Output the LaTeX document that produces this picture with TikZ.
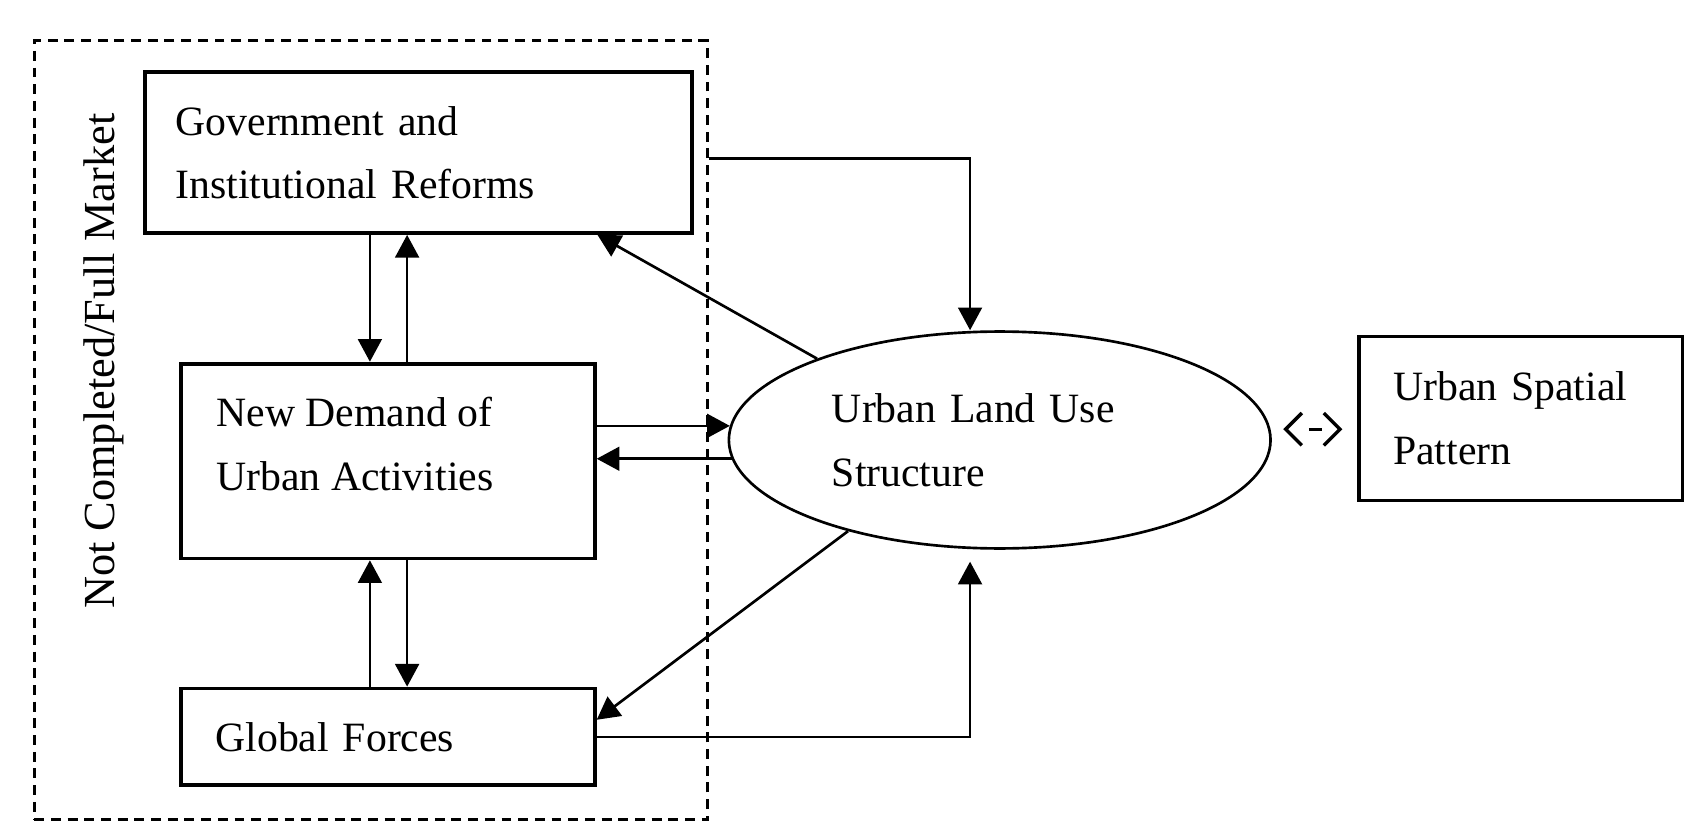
\documentclass[tikz,border=0pt]{standalone}
\usepackage{fontspec}
\setmainfont{Liberation Serif}
\usetikzlibrary{arrows.meta, shapes.geometric, calc}

\begin{document}
\begin{tikzpicture}[
  x=0.01cm, y=-0.01cm,
  >={Triangle[length=0.21cm, width=0.22cm]},
  box/.style   = {draw, line width=1pt, rectangle, inner ysep=0pt, align=left,
                  font=\fontsize{11}{16.8}\selectfont},
  txt/.style   = {inner sep=0pt, align=left, font=\fontsize{11}{16.8}\selectfont},
  oval/.style  = {draw, line width=0.7pt, ellipse, inner sep=0pt, align=left,
                  font=\fontsize{11}{16.8}\selectfont},
  frame/.style = {draw, line width=0.8pt, dash pattern=on 2.6pt off 1.8pt},
  link/.style  = {line width=0.7pt},
  swap/.style  = {line width=0.9pt, dash pattern=on 0pt off 0.2cm on 0.12cm off 1cm,
                  arrows={Straight Barb[length=0.15cm, width=0.3cm]-Straight Barb[length=0.15cm, width=0.3cm]},
                  shorten <=0.105cm, shorten >=0.134cm},
]
  \useasboundingbox (0,0) rectangle (1568,767);

  \node[frame, minimum width=6.24cm, minimum height=7.22cm] (mkt) at (344,399) {};
  \node[rotate=90, anchor=base, font=\fontsize{11.7}{14}\selectfont] (mlbl) at (106,335)
    {Not Completed/Full Market};

  \node[box, minimum width=5.07cm, minimum height=1.49cm, inner xsep=0.285cm, text width=4.5cm]
    (gov) at (388,141.5) {Government and\\Institutional Reforms};
  \node[box, minimum width=3.835cm, minimum height=1.805cm] (dem) at (359.7,427.5) {};
  \node[txt, anchor=west] (demtxt) at (200,412) {New Demand of\\Urban Activities};
  \node[box, minimum width=3.835cm, minimum height=0.895cm, inner xsep=0.32cm, text width=3.195cm]
    (glob) at (359.7,683.25) {Global Forces};
  \node[oval, minimum width=5.02cm, minimum height=2.01cm, text width=3.11cm]
    (ulu) at (927,408) {Urban Land Use\\Structure};
  \node[box, minimum width=3cm, minimum height=1.52cm, inner xsep=0.32cm, text width=2.36cm]
    (spat) at (1410,388) {Urban Spatial\\Pattern};

  % columns and rows of the wires
  \coordinate (cl) at (343,0);
  \coordinate (cr) at (377.5,0);
  \coordinate (cx) at (899.5,0);
  \coordinate (rg) at (0,147);
  \coordinate (rd) at (0,398);

  % inside the market frame
  \draw[link, ->] (gov.south -| cl)  -- (dem.north -| cl);
  \draw[link, ->] (dem.north -| cr)  -- (gov.south -| cr);
  \draw[link, ->] (glob.north -| cl) -- (dem.south -| cl);
  \draw[link, ->] (dem.south -| cr)  -- (glob.north -| cr);

  % to and from the land use structure
  \draw[link, ->] (dem.east |- ulu.177.7) -- (ulu.177.7);
  \draw[link, ->] (ulu.184.5) -- (ulu.184.5 -| dem.east);
  \draw[link, ->] (mkt.east |- rg) -| (ulu.north -| cx);
  \draw[link, ->, shorten >=0.11cm] (glob.east) -| (ulu.south -| cx);
  \draw[link, ->] (ulu.156.6) -- ($(gov.south west)!0.825!(gov.south east)$);
  \draw[link, ->] (ulu.211.2) -- ($(glob.north east)!0.33!(glob.south east)$);

  \draw[swap] (ulu.east |- rd) -- (spat.west |- rd);
\end{tikzpicture}
\end{document}
